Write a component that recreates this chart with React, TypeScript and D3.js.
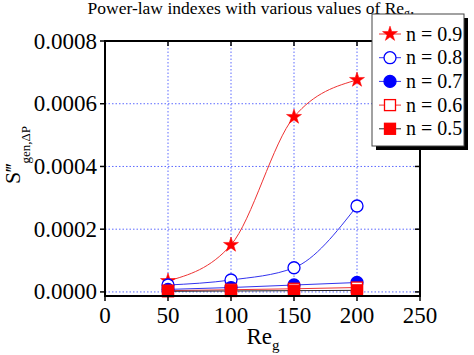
import React from "react";
import * as d3 from "d3";

const reg = [50, 100, 150, 200];
const n09 = [0.000035, 0.00015, 0.000558, 0.000676];
const n08 = [0.000022, 0.000038, 0.000077, 0.000274];
const n07 = [0.000008, 0.000014, 0.000022, 0.00003];
const n06 = [0.000004, 0.000007, 0.00001, 0.000014];
const n05 = [0.000002, 0.000003, 0.000004, 0.000005];
const xTicks = [0, 50, 100, 150, 200, 250];
const yTicks = [0, 0.0002, 0.0004, 0.0006, 0.0008];
const yTickLabels = ["0.0000", "0.0002", "0.0004", "0.0006", "0.0008"];
const legendLabels = ["n = 0.9", "n = 0.8", "n = 0.7", "n = 0.6", "n = 0.5"];

type S = { vals: number[]; line: string; marker: string; color: string; fill: string };
const series: S[] = [
  { vals: n09, line: "#ee3333", marker: "star", color: "#ff0000", fill: "#ff0000" },
  { vals: n08, line: "#3333ee", marker: "circle", color: "#0000ff", fill: "#ffffff" },
  { vals: n07, line: "#3333ee", marker: "circle", color: "#0000ff", fill: "#0000ff" },
  { vals: n06, line: "#ee3333", marker: "square", color: "#ff0000", fill: "#ffffff" },
  { vals: n05, line: "#222222", marker: "square", color: "#ff0000", fill: "#ff0000" },
];

const ts: React.CSSProperties = { fontFamily: "Liberation Serif" };

function Marker({ type, x, y, color, fill }: { type: string; x: number; y: number; color: string; fill: string }) {
  if (type === "star") {
    const p = d3.symbol().type(d3.symbolStar).size(70)();
    return <path d={p || ""} transform={`translate(${x},${y})`} fill={fill} stroke={color} strokeWidth={0.5} />;
  }
  if (type === "circle") {
    return <circle cx={x} cy={y} r={6} fill={fill} stroke={color} strokeWidth={1.3} />;
  }
  return <rect x={x - 5.5} y={y - 5.5} width={11} height={11} fill={fill} stroke={color} strokeWidth={1.3} />;
}

export default function App() {
  const x = d3.scaleLinear().domain([0, 250]).range([105, 420]);
  const y = d3.scaleLinear().domain([-0.000013, 0.0008]).range([296, 41]);
  const line = d3
    .line<number>()
    .x((_, i) => x(reg[i]))
    .y((d) => y(d))
    .curve(d3.curveMonotoneX);
  const x0 = 105, x1 = 420, yb = 296, yt = 41;
  const gridColor = "#3344ff";

  return (
    <svg width={474} height={355} style={{ position: "absolute", left: 0, top: 0, background: "#fff" }}>
      <rect width={474} height={355} fill="#fff" />
      {/* title */}
      <text x={251} y={14} fontSize={17.5} textAnchor="middle" fill="#000" style={ts}>
        Power-law indexes with various values of Re<tspan fontSize={12} dy={3}>g</tspan>
        <tspan dy={-3}>.</tspan>
      </text>
      {/* grid */}
      {reg.map((v) => (
        <line key={"gx" + v} x1={x(v)} x2={x(v)} y1={yt} y2={yb} stroke={gridColor} strokeWidth={0.8} strokeDasharray="1.5,2" />
      ))}
      {yTicks.slice(0, 4).map((v) => (
        <line key={"gy" + v} x1={x0} x2={x1} y1={y(v)} y2={y(v)} stroke={gridColor} strokeWidth={0.8} strokeDasharray="1.5,2" />
      ))}
      {/* lines */}
      {series.map((s, i) => (
        <path key={"l" + i} d={line(s.vals) || ""} fill="none" stroke={s.line} strokeWidth={1} />
      ))}
      {/* markers */}
      {series.map((s, i) =>
        s.vals.map((v, j) => (
          <Marker key={`m${i}-${j}`} type={s.marker} x={x(reg[j])} y={y(v)} color={s.color} fill={s.fill} />
        ))
      )}
      {/* frame */}
      <rect x={x0} y={yt} width={x1 - x0} height={yb - yt} fill="none" stroke="#000" strokeWidth={2} />
      {/* x ticks */}
      {xTicks.map((v) => (
        <g key={"xt" + v}>
          <line x1={x(v)} x2={x(v)} y1={yb} y2={yb + 5} stroke="#000" strokeWidth={1.5} />
          <line x1={x(v)} x2={x(v)} y1={yt} y2={yt + 5} stroke="#000" strokeWidth={1.5} />
          <text x={x(v)} y={323} fontSize={23} textAnchor="middle" style={ts}>{v}</text>
        </g>
      ))}
      {/* y ticks */}
      {yTicks.map((v, i) => (
        <g key={"yt" + v}>
          <line x1={x0 - 5} x2={x0} y1={y(v)} y2={y(v)} stroke="#000" strokeWidth={1.5} />
          <line x1={x1 - 5} x2={x1} y1={y(v)} y2={y(v)} stroke="#000" strokeWidth={1.5} />
          <text x={x0 - 8} y={y(v) + 7.5} fontSize={23} textAnchor="end" style={ts}>{yTickLabels[i]}</text>
        </g>
      ))}
      {/* axis labels */}
      <text x={263} y={344} fontSize={23} textAnchor="middle" style={ts}>
        Re<tspan fontSize={15} dy={6}>g</tspan>
      </text>
      <text transform="translate(20,155) rotate(-90)" fontSize={22} textAnchor="middle" style={ts}>
        S<tspan fontSize={20}>‴</tspan>
        <tspan fontSize={13} dy={10}>gen,ΔP</tspan>
      </text>
      {/* legend */}
      <rect x={376} y={18} width={92} height={132} fill="#000" />
      <rect x={372} y={14} width={92} height={132} fill="#fff" stroke="#444" strokeWidth={1} />
      {series.map((s, i) => {
        const ly = 34 + i * 23.7;
        return (
          <g key={"lg" + i}>
            <line x1={379} x2={401} y1={ly} y2={ly} stroke={s.line} strokeWidth={1} />
            <Marker type={s.marker} x={390} y={ly} color={s.color} fill={s.fill} />
            <text x={406} y={ly + 6.5} fontSize={20} style={ts}>{legendLabels[i]}</text>
          </g>
        );
      })}
    </svg>
  );
}
